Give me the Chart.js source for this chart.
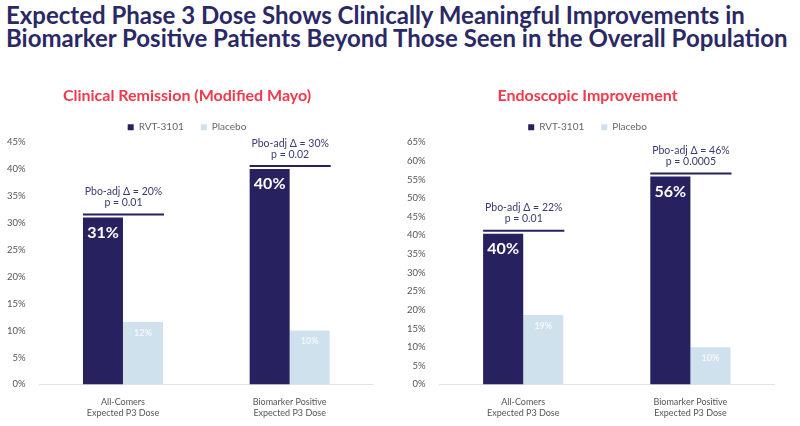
<!DOCTYPE html>
<html>
<head>
<meta charset="utf-8">
<script src="https://cdn.jsdelivr.net/npm/chart.js@4"></script>
<style>
  body { margin: 0; background: #fff; width: 800px; height: 426px; overflow: hidden; position: relative; font-family: Lato, sans-serif; }
  #title { position: absolute; left: 6px; top: 3px; font-weight: bold; font-size: 24px; line-height: 23px; color: #2a2966; white-space: nowrap; }
  .box { position: absolute; top: 80px; height: 346px; }
  #leftBox { left: 0; width: 395px; }
  #rightBox { left: 400px; width: 400px; }
</style>
</head>
<body>
<div id="title">Expected Phase 3 Dose Shows Clinically Meaningful Improvements in<br>Biomarker Positive Patients Beyond Those Seen in the Overall Population</div>
<div class="box" id="leftBox"><canvas id="remissionChart"></canvas></div>
<div class="box" id="rightBox"><canvas id="endoChart"></canvas></div>
<script>
const categories = [['All-Comers', 'Expected P3 Dose'], ['Biomarker Positive', 'Expected P3 Dose']];
const seriesNames = ['RVT-3101', 'Placebo'];

const remissionDrug = [31, 40];
const remissionPlacebo = [11.6, 10];
const remissionDelta = ['Pbo-adj \u0394 = 20%', 'Pbo-adj \u0394 = 30%'];
const remissionP = ['p = 0.01', 'p = 0.02'];
const remissionLabelsDrug = ['31%', '40%'];
const remissionLabelsPlacebo = ['12%', '10%'];

const endoDrug = [40.4, 55.8];
const endoPlacebo = [18.6, 10];
const endoDelta = ['Pbo-adj \u0394 = 22%', 'Pbo-adj \u0394 = 46%'];
const endoP = ['p = 0.01', 'p = 0.0005'];
const endoLabelsDrug = ['40%', '56%'];
const endoLabelsPlacebo = ['19%', '10%'];

const navy = '#28215f';
const pale = '#d0e1ee';
const textNavy = '#3a3a72';

// draws value labels inside bars and the bracket + delta text above each group
const annotatePlugin = {
  id: 'annotate',
  afterDatasetsDraw(chart, args, opts) {
    const ctx = chart.ctx;
    const dark = chart.getDatasetMeta(0).data;
    const light = chart.getDatasetMeta(1).data;
    ctx.save();
    ctx.textAlign = 'center';
    ctx.textBaseline = 'middle';
    dark.forEach((bar, i) => {
      const left = bar.x - bar.width / 2;
      ctx.fillStyle = '#ffffff';
      ctx.font = 'bold 16px Lato';
      ctx.fillText(opts.drugLabels[i], bar.x, bar.y + 15);
      const lb = light[i];
      ctx.font = 'bold 9px Lato';
      ctx.fillStyle = '#f4f8fb';
      ctx.fillText(opts.placeboLabels[i], lb.x, lb.y + 11);
      const right = lb.x + lb.width / 2 + 1;
      const ly = bar.y - 3;
      ctx.strokeStyle = navy;
      ctx.lineWidth = 2;
      ctx.beginPath();
      ctx.moveTo(left, ly);
      ctx.lineTo(right, ly);
      ctx.stroke();
      ctx.fillStyle = textNavy;
      ctx.font = '10.5px Lato';
      const cx = (left + right) / 2;
      ctx.fillText(opts.delta[i], cx, ly - 23);
      ctx.fillText(opts.p[i], cx, ly - 12);
    });
    ctx.restore();
  }
};

function makeChart(id, title, drug, placebo, max, delta, p, drugLabels, placeboLabels, padRight) {
  return new Chart(document.getElementById(id), {
    type: 'bar',
    data: {
      labels: categories,
      datasets: [{
        label: seriesNames[0],
        data: drug,
        backgroundColor: navy,
        categoryPercentage: 0.48,
        barPercentage: 1.0
      }, {
        label: seriesNames[1],
        data: placebo,
        backgroundColor: pale,
        categoryPercentage: 0.48,
        barPercentage: 1.0
      }]
    },
    options: {
      responsive: true,
      maintainAspectRatio: false,
      animation: false,
      layout: { padding: { left: 1, right: padRight, top: 0, bottom: 4 } },
      plugins: {
        title: {
          display: true,
          text: title,
          color: '#f0394b',
          font: { family: 'Lato', size: 16, weight: 'bold' },
          padding: { top: 6, bottom: 0 }
        },
        legend: {
          labels: {
            boxWidth: 6,
            boxHeight: 6,
            color: '#666',
            font: { family: 'Lato', size: 10 },
            padding: 17
          }
        },
        tooltip: { enabled: false },
        annotate: { delta: delta, p: p, drugLabels: drugLabels, placeboLabels: placeboLabels }
      },
      scales: {
        x: {
          grid: { display: false },
          border: { color: '#e3e3e3' },
          ticks: { color: '#555', font: { family: 'Lato', size: 9 }, padding: 4 }
        },
        y: {
          min: 0,
          max: max,
          grid: { display: false },
          border: { display: false },
          ticks: {
            stepSize: 5,
            color: '#555',
            font: { family: 'Lato', size: 9.5 },
            padding: 6,
            callback: v => v + '%'
          }
        }
      }
    },
    plugins: [annotatePlugin]
  });
}

makeChart('remissionChart', 'Clinical Remission (Modified Mayo)', remissionDrug, remissionPlacebo, 45,
  remissionDelta, remissionP, remissionLabelsDrug, remissionLabelsPlacebo, 22);
makeChart('endoChart', 'Endoscopic Improvement', endoDrug, endoPlacebo, 65,
  endoDelta, endoP, endoLabelsDrug, endoLabelsPlacebo, 26);
</script>
</body>
</html>
